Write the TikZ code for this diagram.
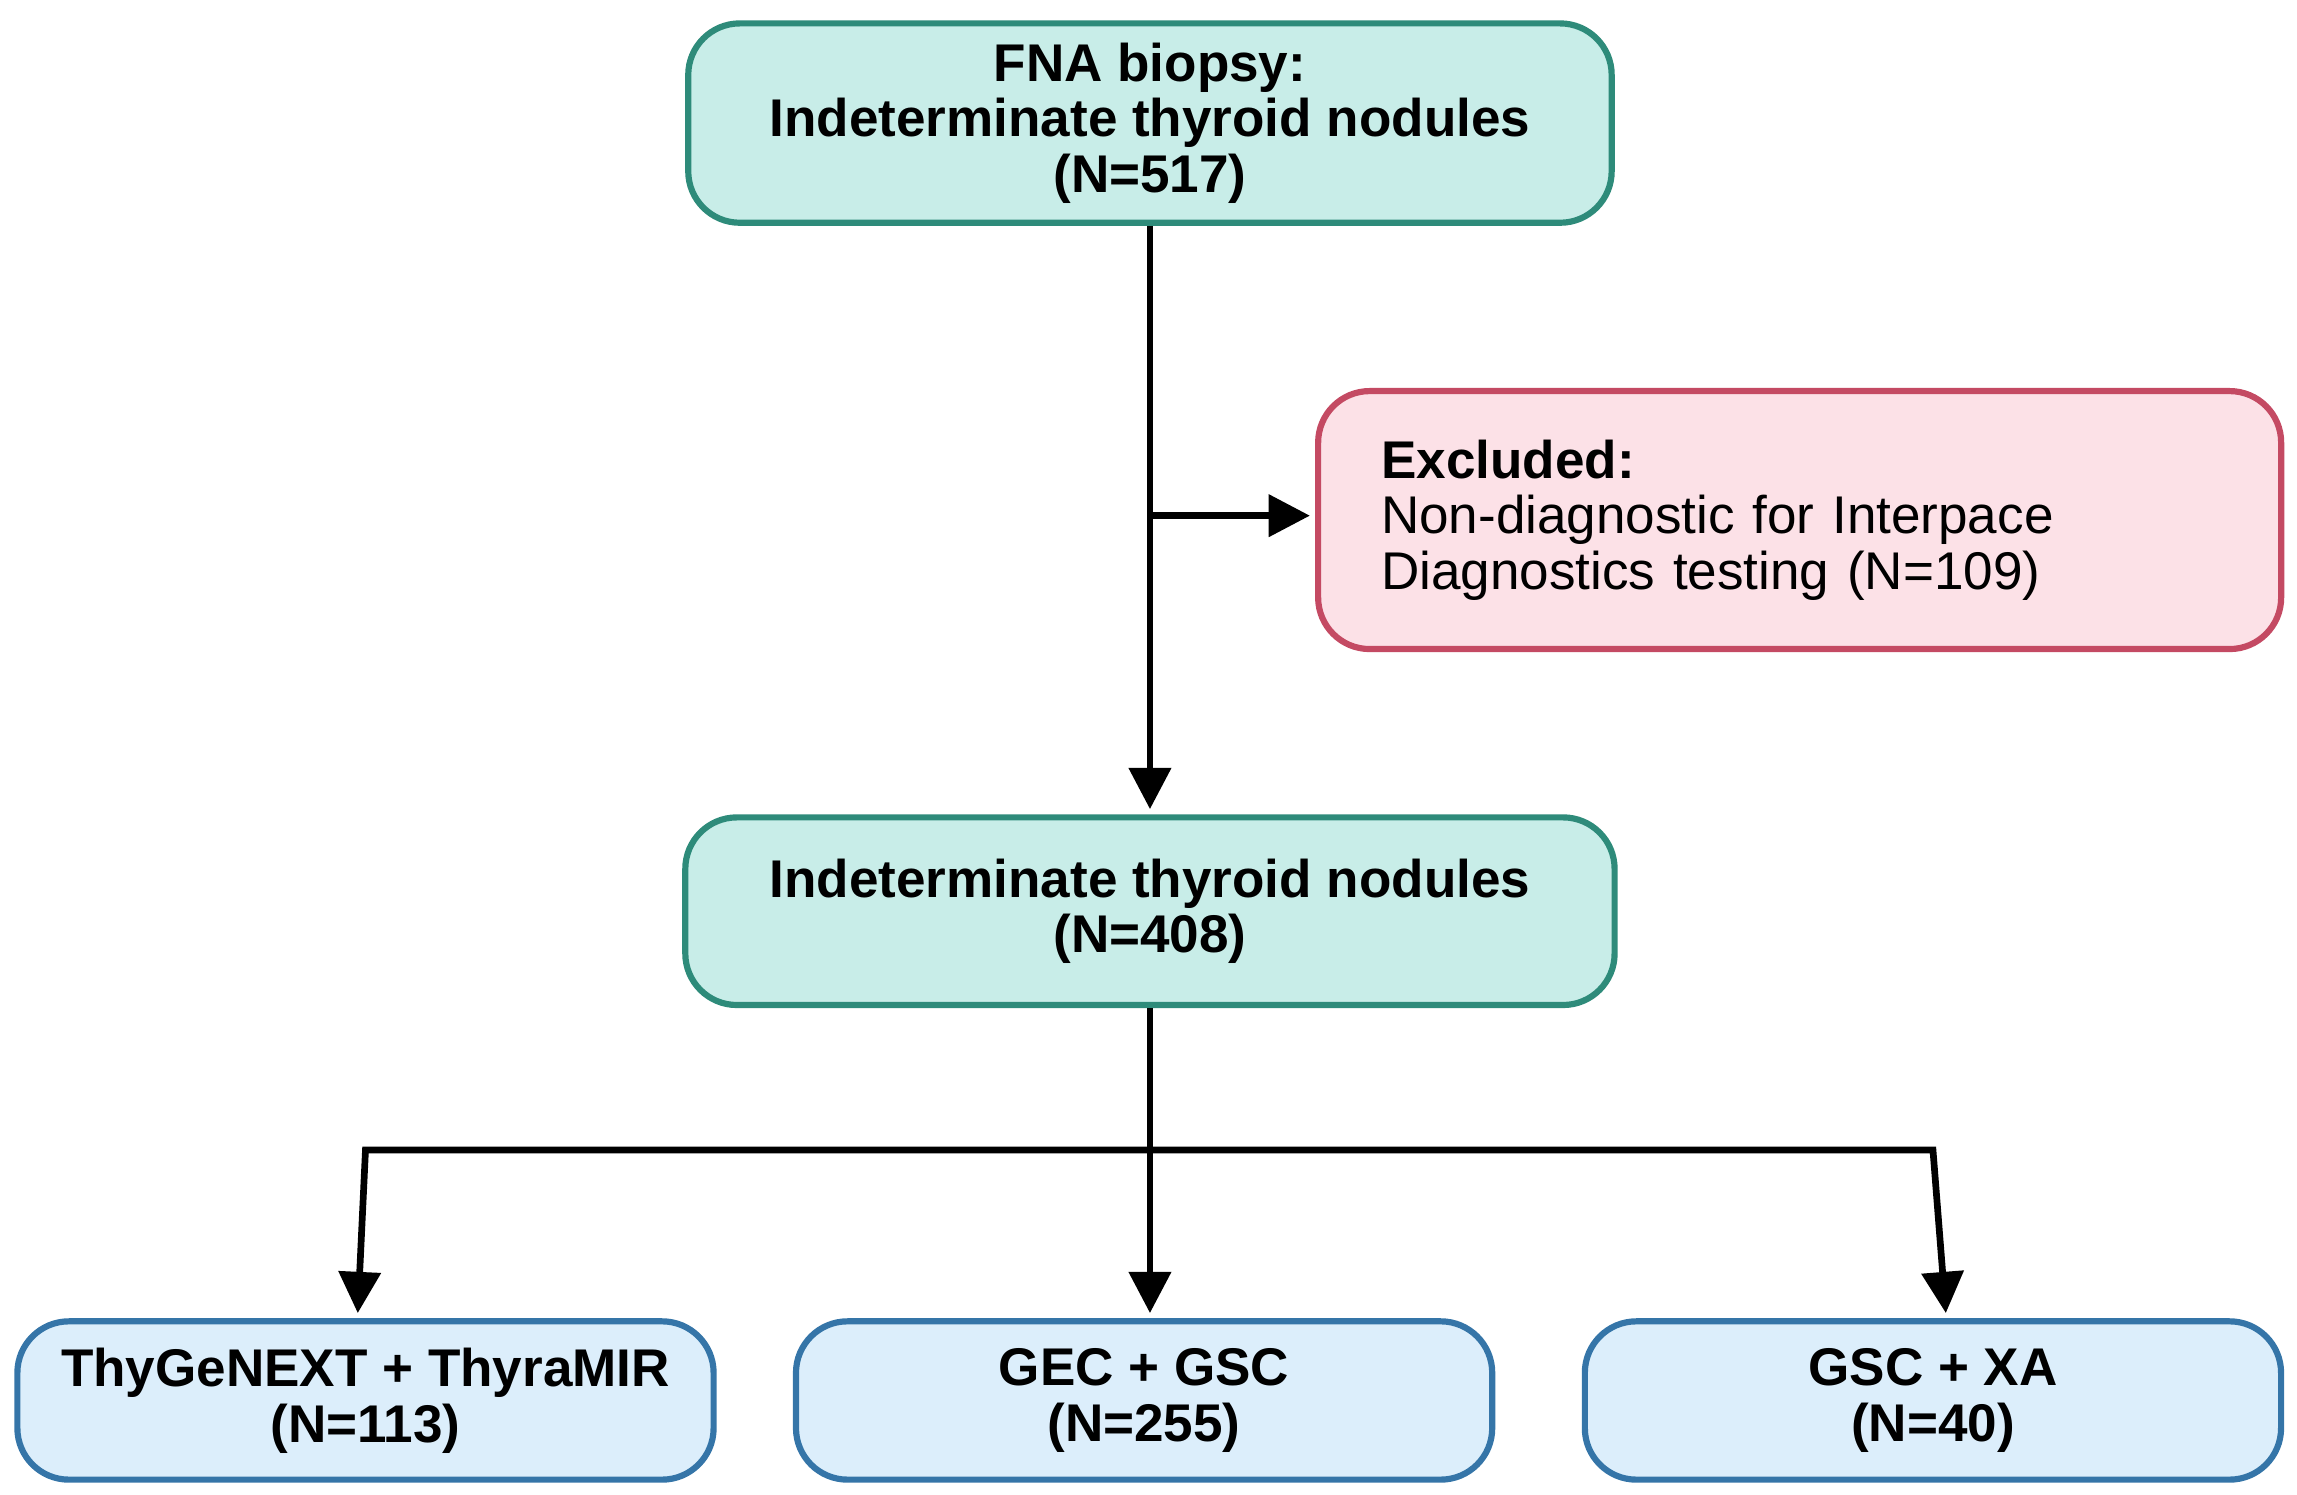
\documentclass[tikz,border=0pt]{standalone}
\usepackage{fontspec}
\setmainfont{Liberation Sans}
\usetikzlibrary{arrows.meta,calc}
\definecolor{tealfill}{HTML}{C8EDE8}
\definecolor{tealline}{HTML}{2E8B7A}
\definecolor{pinkfill}{HTML}{FCE1E7}
\definecolor{pinkline}{HTML}{C44A63}
\definecolor{bluefill}{HTML}{DCEEFB}
\definecolor{blueline}{HTML}{3575A8}
\tikzset{
  box/.style={draw, line width=1.2pt, rounded corners=10pt, align=center,
    font=\fontsize{10.3}{10.8}\selectfont\bfseries, inner sep=0pt},
  green/.style={box, fill=tealfill, draw=tealline},
  blue/.style={box, fill=bluefill, draw=blueline, minimum width=4.75cm, minimum height=1.08cm},
  pink/.style={box, fill=pinkfill, draw=pinkline, align=left, font=\fontsize{10.3}{10.8}\selectfont},
  arr/.style={line width=1.3pt, -{Triangle[length=8pt,width=8pt]}}
}
\begin{document}
\begin{tikzpicture}[x=0.01cm,y=-0.01cm]
    \useasboundingbox (0,0) rectangle (1568,1020);
    %% boxes
    \node[green, minimum width=6.3cm, minimum height=1.36cm] (fna) at (785,84)
      {FNA biopsy:\\Indeterminate thyroid nodules\\(N=517)};
    \node[pink, minimum width=6.57cm, minimum height=1.76cm, text width=5.71cm] (excl) at (1228.5,355)
      {\textbf{Excluded:}\\Non-diagnostic for Interpace\\Diagnostics testing (N=109)};
    \node[green, minimum width=6.34cm, minimum height=1.28cm] (itn) at (785,622)
      {Indeterminate thyroid nodules\\(N=408)};
    \node[blue] (thy) at (249.5,956) {ThyGeNEXT + ThyraMIR\\(N=113)};
    \node[blue] (gec) at (781,956) {GEC + GSC\\(N=255)};
    \node[blue] (gsc) at (1319.5,956) {GSC + XA\\(N=40)};
    %% arrows
    \coordinate (split) at (785,352);
    \coordinate (fork) at (785,785);
    \draw[arr] (fna.south) -- ([yshift=1pt]itn.north);
    \draw[arr] (split) -- ([xshift=-1pt]excl.west |- split);
    \draw[line width=1.3pt] (itn.south) -- (fork);
    \draw[arr] (fork) -- (fork -| thy.north) -- ([yshift=1pt,xshift=-1.5pt]thy.north);
    \draw[arr] (fork) -- ([yshift=1pt]fork |- gec.north);
    \draw[arr] (fork) -- (fork -| gsc.north) -- ([yshift=1pt,xshift=2.5pt]gsc.north);
\end{tikzpicture}
\end{document}
